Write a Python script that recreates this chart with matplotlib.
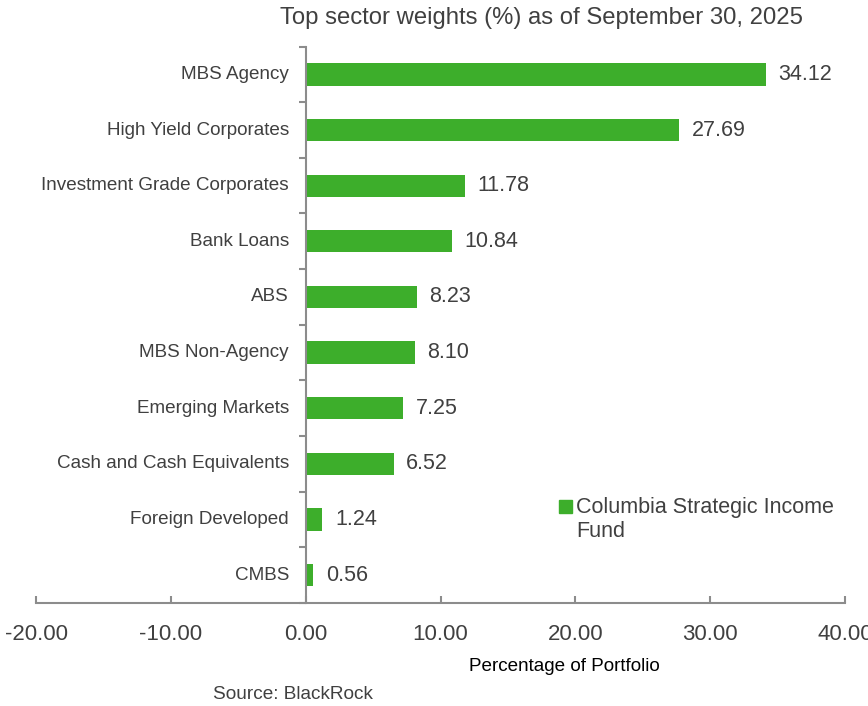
import matplotlib.pyplot as plt
import numpy as np
from matplotlib.patches import Rectangle

plt.rcParams['font.family'] = ['Liberation Sans', 'DejaVu Sans']

sectors = ['MBS Agency', 'High Yield Corporates', 'Investment Grade Corporates',
           'Bank Loans', 'ABS', 'MBS Non-Agency', 'Emerging Markets',
           'Cash and Cash Equivalents', 'Foreign Developed', 'CMBS']
weights = [34.12, 27.69, 11.78, 10.84, 8.23, 8.10, 7.25, 6.52, 1.24, 0.56]
x_ticks = [-20, -10, 0, 10, 20, 30, 40]

green = '#3DAE2B'
grey = '#404040'
axis_grey = '#8C8C8C'

fig = plt.figure(figsize=(8.68, 7.06), dpi=100)
ax = fig.add_axes([0.0415, 0.146, 0.932, 0.788])

y = np.arange(len(sectors))
ax.barh(y, weights, height=0.4, color=green)
for yi, w in zip(y, weights):
    ax.annotate(f'{w:.2f}', (w, yi), xytext=(9, 0), textcoords='offset points',
                va='center', ha='left', fontsize=15.5, color=grey)

ax.set_xlim(-20, 40)
ax.set_ylim(len(sectors) - 0.5, -0.5)
ax.set_xticks(x_ticks)
ax.set_xticklabels([f'{t:.2f}' for t in x_ticks], fontsize=16, color=grey)
ax.tick_params(axis='x', direction='in', length=5, color=axis_grey, width=1.5, pad=15)

# zero line carries the category boundary ticks
ax.spines['left'].set_position(('data', 0))
ax.spines['left'].set_color(axis_grey)
ax.spines['left'].set_linewidth(1.5)
ax.set_yticks(np.arange(-0.5, len(sectors), 1.0))
ax.set_yticklabels([])
ax.tick_params(axis='y', direction='out', length=5, color=axis_grey, width=1.5)
for yi, s in zip(y, sectors):
    ax.annotate(s, (0, yi), xytext=(-12, 0), textcoords='offset points',
                va='center', ha='right', fontsize=13.6, color=grey)

for side in ['top', 'right']:
    ax.spines[side].set_visible(False)
ax.spines['bottom'].set_color(axis_grey)
ax.spines['bottom'].set_linewidth(1.5)

fig.text(0.624, 0.974, 'Top sector weights (%) as of September 30, 2025',
         ha='center', va='center', fontsize=17.2, color=grey)
fig.text(0.65, 0.056, 'Percentage of Portfolio', ha='center', va='center',
         fontsize=13.6, color='#000000')
fig.text(0.3375, 0.016, 'Source: BlackRock', ha='center', va='center',
         fontsize=13.7, color=grey)

# legend
fig.patches.append(Rectangle((0.644, 0.273), 0.015, 0.0184, transform=fig.transFigure,
                             color=green))
fig.text(0.6636, 0.264, 'Columbia Strategic Income\nFund', ha='left', va='center',
         fontsize=15.5, color=grey, linespacing=1.15)

fig.savefig('out.png', dpi=100)
